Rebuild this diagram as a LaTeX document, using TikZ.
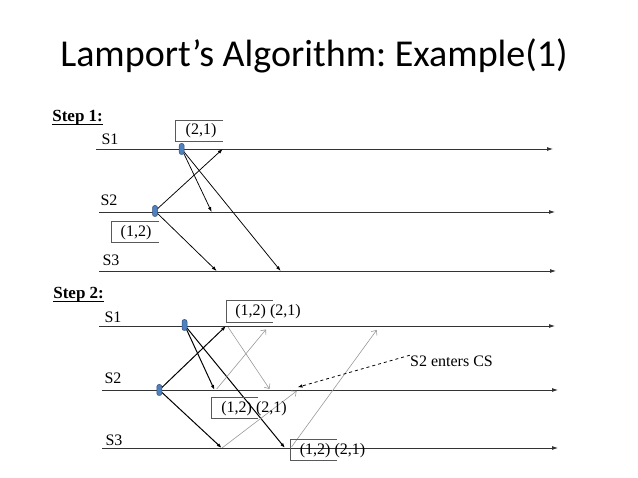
\documentclass[tikz,border=0pt]{standalone}
\usepackage{fontspec}
\setmainfont{Liberation Serif}
\newfontfamily\titlefont{Carlito}
\usetikzlibrary{arrows.meta}
\definecolor{evblue}{HTML}{4F81BD}
\definecolor{evedge}{HTML}{2F4F7F}
\frenchspacing
\begin{document}
\begin{tikzpicture}[x=1pt, y=-1pt, line width=0.75pt,
  every node/.style={inner sep=0, font=\fontsize{16}{18}\selectfont},
  proc/.style={draw=black!80, -{Latex[length=6pt,width=4pt]}},
  msg/.style={-{Latex[length=5pt,width=3.5pt]}},
  echo/.style={draw=black!40, line width=0.6pt, -{Straight Barb[length=4pt,width=7pt]}},
  event/.style={rounded corners=2.2pt, fill=evblue, draw=evedge, line width=0.5pt, minimum width=5pt, minimum height=11pt},
  stamp/.style={draw=black!65, line width=0.7pt},
  steplabel/.style={font=\fontsize{17}{19}\selectfont\bfseries}]
\useasboundingbox (0,0) rectangle (638,478);
\newcommand{\event}[2]{\node (#1) [event] at (#2) {};}
\newcommand{\stampbox}[4]{\draw[stamp] (#3,#2) -- (#1,#2) -- (#1,#4) -- (#3,#4);}

% title
\node (title) [anchor=base, font=\titlefont\fontsize{38}{40}\selectfont] at (314,67) {Lamport’s Algorithm: Example(1)};

% step 1
\node (step1) [steplabel, anchor=base west] at (52,122) {Step 1:};
\draw[line width=0.8pt] ([yshift=-2.5pt]step1.base west) -- ([yshift=-2.5pt]step1.base east);
\node (p1s1) at (110,139) {S1};
\node (p2s1) at (109,200) {S2};
\node (p3s1) at (111,260) {S3};
\coordinate (a1) at (96,149);  \coordinate (b1) at (553,149);
\coordinate (a2) at (99,212);  \coordinate (b2) at (555,212);
\coordinate (a3) at (99,271);  \coordinate (b3) at (556,271);
\draw[proc] (a1) -- (b1);
\draw[proc] (a2) -- (b2);
\draw[proc] (a3) -- (b3);
\coordinate (r1s2) at (211.7,212);
\coordinate (r1s3) at (280.7,271);
\coordinate (r2s1) at (222.7,149);
\coordinate (r2s3) at (216.7,271);
\draw[msg] (181.7,149) -- (r1s2);
\draw[msg] (181.7,149) -- (r1s3);
\draw[msg] (155,211) -- (r2s1);
\draw[msg] (155,211) -- (r2s3);
\event{e1}{181.7,149}
\event{e2}{155,211}
\stampbox{175.7}{120}{223}{141.7}
\node (ts1) at (201,131) {(2,1)};
\stampbox{111.7}{221.7}{159.3}{242.3}
\node (ts2) at (136,233) {(1,2)};

% step 2
\node (step2) [steplabel, anchor=base west] at (53,299) {Step 2:};
\draw[line width=0.8pt] ([yshift=-2.5pt]step2.base west) -- ([yshift=-2.5pt]step2.base east);
\node (p1s2) at (113,317) {S1};
\node (p2s2) at (113,378) {S2};
\node (p3s2) at (114,440) {S3};
\coordinate (c1) at (99,326);  \coordinate (d1) at (555,326);
\coordinate (c2) at (102,390); \coordinate (d2) at (558,390);
\coordinate (c3) at (102,448); \coordinate (d3) at (558,448);
\draw[proc] (c1) -- (d1);
\draw[proc] (c2) -- (d2);
\draw[proc] (c3) -- (d3);
\coordinate (q1s2) at (214.5,390);
\coordinate (q1s3) at (285,448);
\coordinate (q2s1) at (226,326);
\coordinate (q2s3) at (221.7,448);
\draw[msg, line width=1pt] (184.5,325) -- (q1s2);
\draw[msg, line width=1pt] (184.5,325) -- (q1s3);
\draw[msg, line width=1pt] (159.3,390) -- (q2s1);
\draw[msg, line width=1pt] (159.3,390) -- (q2s3);
\event{f1}{184.5,325}
\event{f2}{159.3,390}
% replies
\coordinate (k1) at (228,327);   \coordinate (k2) at (269.5,389);
\coordinate (k3) at (216.7,389); \coordinate (k4) at (266,329.5);
\coordinate (k5) at (222,448);   \coordinate (k6) at (296.7,391);
\coordinate (k7) at (291.5,447); \coordinate (k8) at (376.7,330);
\draw[echo] (k1) -- (k2);
\draw[echo] (k3) -- (k4);
\draw[echo] (k5) -- (k6);
\draw[echo] (k7) -- (k8);
\stampbox{226}{300}{273}{322.3}
\node (qs1) at (268,312) {(1,2) (2,1)};
\stampbox{211.7}{397.3}{258}{418.3}
\node (qs2) at (254,409) {(1,2) (2,1)};
\stampbox{290}{439}{336.7}{460}
\node (qs3) at (332.5,451) {(1,2) (2,1)};
% critical section
\node (cs) at (451.5,361) {S2 enters CS};
\coordinate (csin) at (297.5,387.3);
\draw[msg, dashed, line width=0.8pt] (cs.north west) -- (csin);
\end{tikzpicture}
\end{document}
